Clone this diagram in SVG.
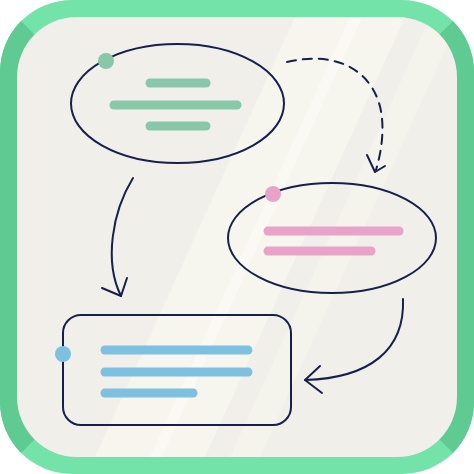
<svg xmlns="http://www.w3.org/2000/svg" width="474" height="474" viewBox="0 0 474 474">
  <defs>
    <clipPath id="outerClip"><rect x="0" y="0" width="474" height="474" rx="72" ry="72"/></clipPath>
    <clipPath id="innerClip"><rect x="17" y="17" width="440" height="440" rx="60" ry="60"/></clipPath>
    <style>
      .edge{fill:none;stroke:#17204d;stroke-width:2;stroke-linecap:round;stroke-linejoin:round}
      .dash{stroke-dasharray:9 7}
      .shape{fill:none;stroke:#17204d;stroke-width:2}
      .g{stroke:#88c8a8;stroke-width:9;stroke-linecap:round}
      .p{stroke:#e9a3c9;stroke-width:9;stroke-linecap:round}
      .b{stroke:#7ec0df;stroke-width:9;stroke-linecap:round}
    </style>
  </defs>
  <g id="frame">
    <rect x="0" y="0" width="474" height="474" rx="72" ry="72" fill="#74e3aa"/>
    <g clip-path="url(#outerClip)" fill="#5fca91">
      <polygon points="0,0 40,40 40,434 0,474"/>
      <polygon points="474,0 434,40 434,434 474,474"/>
    </g>
    <rect x="17" y="17" width="440" height="440" rx="60" ry="60" fill="#f0efe9"/>
    <g clip-path="url(#innerClip)">
      <polygon points="95,457 205,457 405,17 295,17" fill="#f6f5ee"/>
      <polygon points="150,457 162,457 362,17 350,17" fill="#faf9f3"/>
      <polygon points="230,457 260,457 460,17 430,17" fill="#f4f3ec"/>
    </g>
  </g>
  <g id="connectors">
    <path class="edge" d="M133,178 C112,212 104,262 121,296"/>
    <path class="edge" d="M102,288 L121,296 L127,278"/>
    <path class="edge dash" d="M287,62 C330,52 365,65 378,100 C386,122 382,150 376,170"/>
    <path class="edge" d="M367,155 L375,172 L385,166"/>
    <path class="edge" d="M403,299 C405,350 370,378 305,380"/>
    <path class="edge" d="M320,366 L305,380 L322,393"/>
  </g>
  <g id="node-green">
    <ellipse class="shape" cx="177.5" cy="103.5" rx="106.5" ry="59.5"/>
    <circle cx="106" cy="61" r="8" fill="#88c8a8"/>
    <line class="g" x1="150" y1="83" x2="206" y2="83"/>
    <line class="g" x1="114" y1="105" x2="237" y2="105"/>
    <line class="g" x1="150" y1="126" x2="206" y2="126"/>
  </g>
  <g id="node-pink">
    <ellipse class="shape" cx="332" cy="238" rx="104" ry="55"/>
    <circle cx="273" cy="194" r="8" fill="#e9a3c9"/>
    <line class="p" x1="268" y1="231" x2="399" y2="231"/>
    <line class="p" x1="268" y1="251" x2="371" y2="251"/>
  </g>
  <g id="node-blue">
    <rect class="shape" x="63" y="315" width="228" height="110" rx="18" ry="18"/>
    <circle cx="63" cy="354" r="8" fill="#7ec0df"/>
    <line class="b" x1="105" y1="350" x2="248" y2="350"/>
    <line class="b" x1="105" y1="372" x2="248" y2="372"/>
    <line class="b" x1="105" y1="393" x2="193" y2="393"/>
  </g>
</svg>
